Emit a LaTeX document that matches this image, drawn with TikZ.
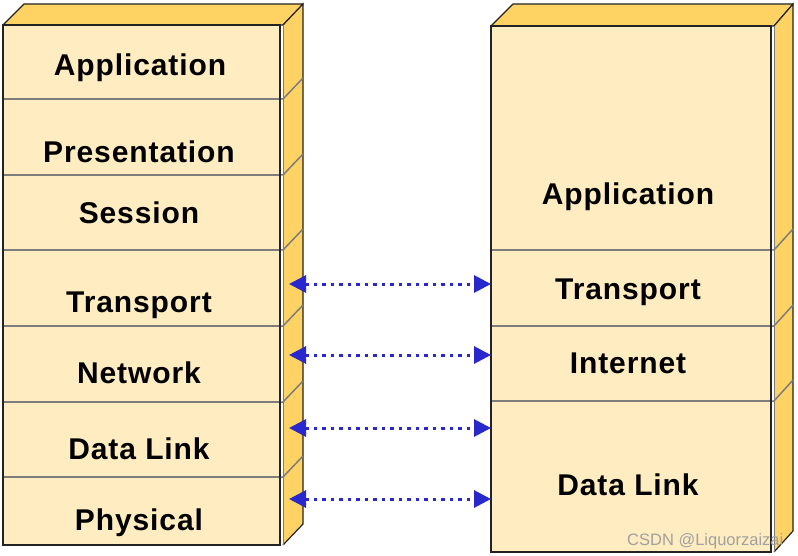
\documentclass[tikz,border=0pt]{standalone}
\usepackage{fontspec}
\setmainfont{Liberation Sans}
\newfontfamily\lblfont{Liberation Sans}[LetterSpace=3]
\usetikzlibrary{arrows.meta}
\definecolor{frontc}{RGB}{255,237,193}
\definecolor{sidec}{RGB}{255,210,100}
\definecolor{edgec}{RGB}{35,35,35}
\definecolor{sepc}{RGB}{125,125,125}
\definecolor{arrc}{RGB}{40,40,205}
\definecolor{wmc}{RGB}{160,160,160}
\begin{document}
\begin{tikzpicture}[x=1pt,y=-1pt,
  layer/.style={fill=frontc, draw=sepc, line width=1.5pt, rectangle, anchor=north west, inner sep=0pt, outer sep=0pt},
  lbl/.style={font=\lblfont\fontsize{30}{36}\selectfont\bfseries, text=black, inner sep=0pt, anchor=base},
  face/.style={fill=sidec, draw=edgec, line width=1.2pt, line join=round},
  frame/.style={draw=edgec, line width=1.5pt},
  sep/.style={draw=sepc, line width=1.5pt},
  link/.style={draw=arrc, line width=3pt, dash pattern=on 3.5pt off 5pt,
    {Triangle[length=17pt,width=17pt]}-{Triangle[length=17pt,width=17pt]}},
  wm/.style={font=\fontsize{16.5}{18}\selectfont, text=wmc, inner sep=0pt, anchor=base west}]
\useasboundingbox (0,0) rectangle (798,556);
\fill[white] (0,0) rectangle (798,556);

% ---------- left stack (OSI) ----------
\draw[face] (3,25) -- (24,4) -- (303,4) -- (283,25) -- cycle;
\fill[sidec] (283,25) -- (303,4) -- (303,524) -- (283,545) -- cycle;
\draw[edgec, line width=1.2pt] (283,25) -- (303,4) -- (303,524) -- (283,545);
\draw[sepc, line width=1.2pt] (283.5,25) -- (283.5,545);
\node[layer, minimum width=277pt, minimum height=74pt] (lapp) at (3,25) {};
\node[layer, minimum width=277pt, minimum height=76pt] (lpre) at (3,99) {};
\node[layer, minimum width=277pt, minimum height=75pt] (lses) at (3,175) {};
\node[layer, minimum width=277pt, minimum height=76pt] (ltra) at (3,250) {};
\node[layer, minimum width=277pt, minimum height=76pt] (lnet) at (3,326) {};
\node[layer, minimum width=277pt, minimum height=75pt] (ldat) at (3,402) {};
\node[layer, minimum width=277pt, minimum height=68pt] (lphy) at (3,477) {};
\foreach \yy in {99,175,250,326,402,477}
  \draw[sep] (280,\yy) -- (283,\yy) -- (303,\yy-21);
\draw[frame] (3,25) rectangle (280,545);

\node[lbl] (tapp) at (140,76) {Application};
\node[lbl] (tpre) at (139,163) {Presentation};
\node[lbl] (tses) at (139,224) {Session};
\node[lbl] (ttra) at (139,312) {Transport};
\node[lbl] (tnet) at (139,383) {Network};
\node[lbl] (tdat) at (139,459) {Data Link};
\node[lbl] (tphy) at (139,530) {Physical};

% ---------- right stack (TCP/IP) ----------
\draw[face] (491,26) -- (513,4) -- (793,4) -- (774,26) -- cycle;
\fill[sidec] (774,26) -- (793,4) -- (793,531) -- (774,552) -- cycle;
\draw[edgec, line width=1.2pt] (774,26) -- (793,4) -- (793,531) -- (774,552);
\draw[sepc, line width=1.2pt] (774.5,26) -- (774.5,552);
\node[layer, minimum width=280pt, minimum height=224pt] (rapp) at (491,26) {};
\node[layer, minimum width=280pt, minimum height=76pt] (rtra) at (491,250) {};
\node[layer, minimum width=280pt, minimum height=75pt] (rint) at (491,326) {};
\node[layer, minimum width=280pt, minimum height=151pt] (rdat) at (491,401) {};
\foreach \yy in {250,326,401}
  \draw[sep] (771,\yy) -- (774,\yy) -- (793,\yy-21);
\draw[frame] (491,26) rectangle (771,552);

\node[lbl] (uapp) at (628,205) {Application};
\node[lbl] (utra) at (628,299) {Transport};
\node[lbl] (uint) at (628,373) {Internet};
\node[lbl] (udat) at (628,495) {Data Link};

% ---------- peer links ----------
\coordinate (a1) at (289,284); \coordinate (b1) at (491,284);
\coordinate (a2) at (289,355); \coordinate (b2) at (491,355);
\coordinate (a3) at (289,428); \coordinate (b3) at (491,428);
\coordinate (a4) at (289,499); \coordinate (b4) at (491,499);
\draw[link] (a1) -- (b1);
\draw[link] (a2) -- (b2);
\draw[link] (a3) -- (b3);
\draw[link] (a4) -- (b4);

% ---------- watermark ----------
\node[wm] (wmark) at (627,545) {CSDN @Liquorzaizai};
\end{tikzpicture}
\end{document}
